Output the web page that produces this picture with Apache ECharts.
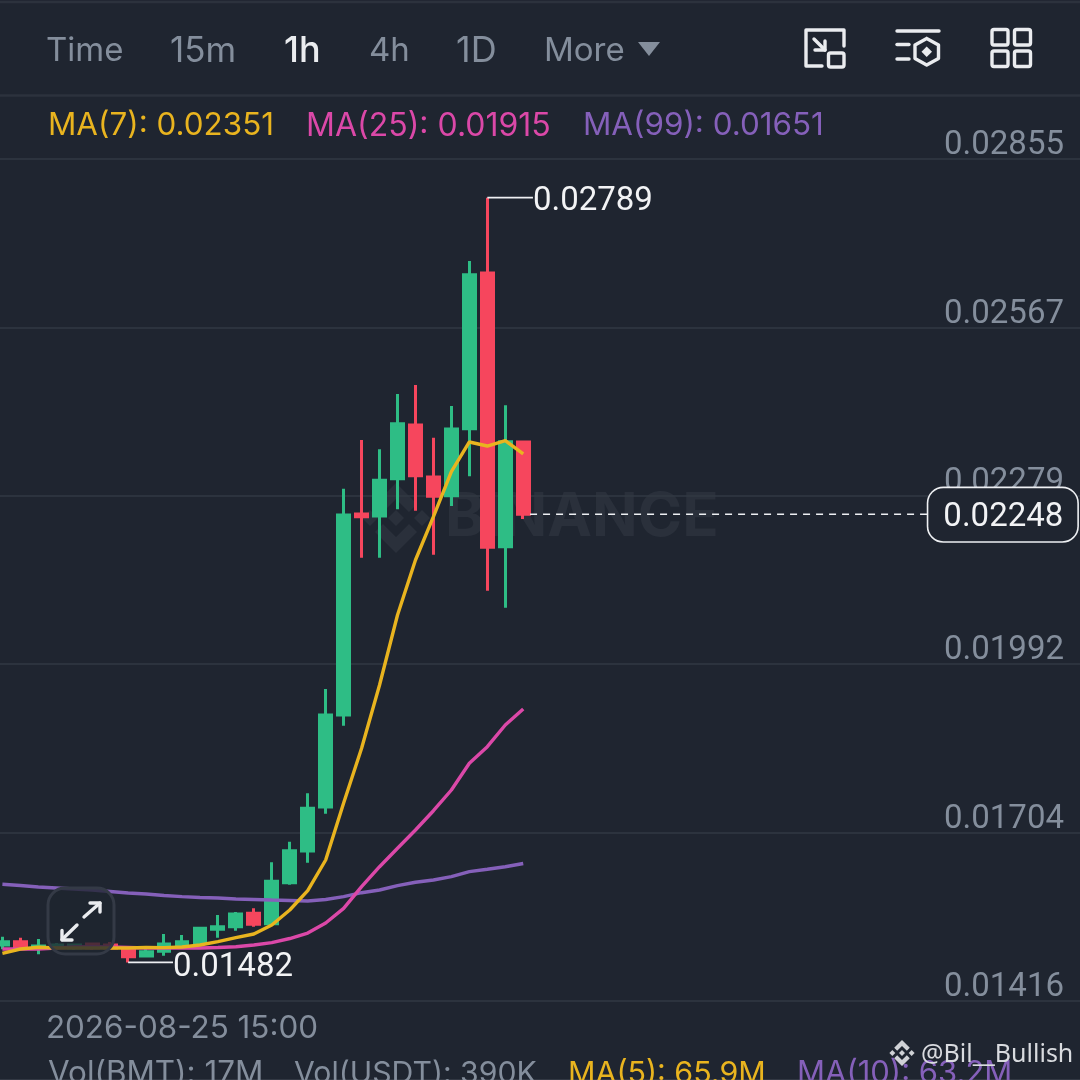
<!DOCTYPE html>
<html>
<head>
<meta charset="utf-8">
<style>html,body{margin:0;padding:0;background:#1f2530;overflow:hidden}#c{width:1080px;height:1080px}</style>
<script src="https://cdn.jsdelivr.net/npm/echarts@6/dist/echarts.min.js"></script>
</head>
<body>
<div id="c"></div>
<script>
// candle values: [open, close, low, high]
const candles = [
 [.015117,.015174,.015044,.015259],
 [.015174,.015061,.015049,.015242],
 [.01508,.0151,.01496,.01522],
 [.015083,.015117,.015049,.015151],
 [.015066,.015117,.015032,.015143],
 [.015134,.015066,.015032,.015151],
 [.015117,.015066,.015032,.015169],
 [.015061,.014917,.01482,.0151],
 [.014929,.015003,.014917,.015044],
 [.01501,.015134,.014934,.015305],
 [.015117,.015174,.015078,.015288],
 [.015157,.015403,.015146,.015413],
 [.015386,.01543,.015242,.01563],
 [.01543,.015647,.015362,.015681],
 [.015659,.015471,.01543,.015744],
 [.015481,.016206,.015442,.01653],
 [.016182,.016729,.016148,.016883],
 [.016724,.017453,.016524,.01771],
 [.017476,.019048,.017361,.019492],
 [.019048,.022466,.018865,.022915],
 [.022483,.022437,.021736,.023748],
 [.022449,.023059,.021736,.023589],
 [.023086,.024026,.022563,.024534],
 [.024004,.023138,.02254,.024688],
 [.023115,.022786,.021788,.023787],
 [.022796,.023936,.02262,.024329],
 [.023941,.026573,.023127,.026807],
 [.026602,.021914,.021172,.02789],
 [.021924,.023719,.020882,.024341],
 [.023714,.02248,.022398,.023719]
];
const ma7 = [.014975,.015049,.015078,.015066,.015066,.015066,.015066,.015066,.015075,.015072,.015083,.015117,.015174,.015242,.015305,.015459,.015715,.016045,.01657,.017544,.018479,.019561,.020757,.021697,.022437,.023206,.023714,.023645,.023736,.02351];
const ma25 = [.015049,.015049,.015049,.015066,.015083,.015088,.015083,.015075,.015066,.015066,.015066,.015066,.015075,.015088,.015117,.015157,.015228,.015322,.015493,.015744,.016114,.016455,.01677,.017083,.017412,.017766,.018223,.018506,.018877,.01915];
const ma99 = [.016155,.016134,.016108,.016091,.016074,.016057,.016032,.016006,.015989,.015963,.015943,.015929,.01592,.015903,.015895,.015886,.015878,.015869,.015895,.015943,.016011,.016057,.016131,.016189,.016228,.016285,.01637,.016411,.016455,.01651];
const tickLabels = ['0.01416','0.01704','0.01992','0.02279','0.02567','0.02855'];
const lastPrice = 0.02248, highPrice = 0.02789, lowPrice = 0.01482;
const timeLabel = '2026-08-25 15:00';
const tabs = ['Time','15m','1h','4h','1D','More'];
const maLegend = ['MA(7): 0.02351','MA(25): 0.01915','MA(99): 0.01651'];
const volLegend = ['Vol(BMT): 17M','Vol(USDT): 390K','MA(5): 65.9M','MA(10): 63.2M'];

const BG='#1f2530', GRID='#323843', GRAY='#848e9c', WHITE='#eaecef', GREEN='#2ebd85', RED='#f6465d',
      YEL='#e9b41f', PINK='#db48a8', PUR='#8560ba', FONT='Inter', NUM='Roboto';
const slots = 62, timeIdx = 11;               // one leading empty slot, then one per hour
const cats = []; 
for (let i=0;i<slots;i++) cats.push(i===timeIdx?timeLabel:'h'+i);
const pad = a => ['-'].concat(a);

function txt(t,x,y,size,fill,extra){return Object.assign({type:'text',silent:true,z:50,style:{text:t,x:x,y:y,fill:fill,
  font:(extra&&extra.weight||'400')+' '+size+'px '+(extra&&extra.family||FONT),textVerticalAlign:'middle',textAlign:extra&&extra.align||'left'}},{});}
function line(x1,y1,x2,y2,c,w,z){return {type:'line',silent:true,z:z||50,shape:{x1,y1,x2,y2},style:{stroke:c||WHITE,lineWidth:w||3.4,lineCap:'round',lineJoin:'round'}};}
function poly(pts,style,z){return {type:'polyline',silent:true,z:z||50,shape:{points:pts},style:Object.assign({fill:null,stroke:WHITE,lineWidth:3.4,lineCap:'round',lineJoin:'round'},style||{})};}
function sq(x,y,w,h){return {type:'rect',silent:true,z:50,shape:{x,y,width:w,height:h,r:2},style:{fill:null,stroke:WHITE,lineWidth:3.4}};}
function logo(cx,cy,r,fill,z){
  const s=r/35, P=a=>({type:'polygon',silent:true,z:z,shape:{points:a.map(p=>[cx+p[0]*s,cy+p[1]*s])},style:{fill:fill}});
  const d=(x,y,h)=>P([[x,y-h],[x+h,y],[x,y+h],[x-h,y]]);
  return [P([[0,-35],[21,-14],[13,-6],[0,-19],[-13,-6],[-21,-14]]),
          P([[0,35],[21,14],[13,6],[0,19],[-13,6],[-21,14]]),
          d(0,0,8),d(-26,0,8),d(26,0,8)];
}
const tabX=[46,170,284,369,456,544];
const tabSize=[33,35,36,33,36,33];
let g=[];
g.push(line(0,2,1080,2,'#2c323d',2.5));
tabs.forEach((t,i)=>g.push(txt(t,tabX[i],51,tabSize[i],i===2?WHITE:GRAY,i===2?{weight:'500'}:null)));
g.push({type:'polygon',silent:true,z:50,shape:{points:[[638,42],[660,42],[649,56]]},style:{fill:GRAY}});
// icons
g.push(poly([[844,46],[844,30],[806,30],[806,66],[822,66]]));
g.push(sq(828.5,53,15.5,14));
g.push(poly([[814,39],[825,50]]));g.push(poly([[825,41],[825,50],[815,50]]));
g.push(line(897,31,939,31));g.push(line(897,44.5,909,44.5));g.push(line(897,59,909,59));
g.push(poly([[926.7,38.5],[938.5,45],[938.5,58.5],[926.7,65],[915,58.5],[915,45],[926.7,38.5]]));
g.push({type:'polygon',silent:true,z:50,shape:{points:[[926.7,46.5],[932,51.7],[926.7,57],[921.5,51.7]]},style:{fill:WHITE}});
[[992,29.5],[1014.5,29.5],[992,51],[1014.5,51]].forEach(p=>g.push(sq(p[0],p[1],16,15.5)));
// legends
[[48,YEL],[306,PINK],[583,PUR]].forEach((p,i)=>g.push(txt(maLegend[i],p[0],126,i===1?32:31.4,p[1])));
[[48,GRAY,31.4],[294,GRAY,30.2],[568,YEL,30.4],[797,PUR,31]].forEach((p,i)=>g.push(txt(volLegend[i],p[0],1074,p[2],p[1])));
// watermark
logo(396,518,35,'#2a303b',-1).forEach(e=>g.push(e));
g.push(Object.assign(txt('BINANCE',445,518,60,'#2a303b',{weight:'700'}),{z:-1}));
// expand button
g.push({type:'rect',silent:true,z:60,shape:{x:48,y:888,width:66,height:66,r:17},style:{fill:'rgba(31,37,48,0.78)',stroke:'#343a46',lineWidth:3}});
g.push(Object.assign(line(84,917,100,903,WHITE,3.4),{z:61}));
g.push(Object.assign(poly([[90,903],[100,903],[100,912]]),{z:61}));
g.push(Object.assign(line(77,925,62,939.5,WHITE,3.4),{z:61}));
g.push(Object.assign(poly([[62,930.5],[62,940],[72,940]]),{z:61}));
// credit
logo(902,1053,13,'#d0d2d6',70).forEach(e=>g.push(e));
g.push(Object.assign(txt('@Bil__Bullish',921,1055,25,'#d9dbdf',{family:'Noto Sans'}),{z:70}));

const chart = echarts.init(document.getElementById('c'),null,{renderer:'canvas'});
const lineSeries=(name,data,color,z)=>({name,type:'line',data:pad(data),xAxisIndex:0,yAxisIndex:0,symbol:'none',
  smooth:false,silent:true,z:z,lineStyle:{color,width:3.4},animation:false});
const note=(name,pts,dash,label)=>({name,type:'line',xAxisIndex:1,yAxisIndex:0,data:pts,symbol:'none',silent:true,z:8,animation:false,
  lineStyle:{color:'#eef0f3',width:1.6,type:dash?[7,6]:'solid'},
  endLabel:Object.assign({show:true,distance:0,color:'#f2f3f5',fontSize:33,fontFamily:NUM,offset:[0,4],formatter:p=>p.value[1].toFixed(5)},label||{})});

chart.setOption({
  animation:false,
  backgroundColor:BG,
  graphic:g,
  grid:[
    {left:-15.56,width:1095.56,top:95,height:906,outerBoundsMode:'none'},
    {left:-15.56,width:1095.56,top:159,height:842,outerBoundsMode:'none'},
    {left:-15.56,width:1095.56,top:1049,height:31,outerBoundsMode:'none'}
  ],
  xAxis:[
    {type:'category',gridIndex:0,data:cats,boundaryGap:false,axisLine:{show:false},axisTick:{show:false},
     axisLabel:{interval:i=>i===timeIdx,formatter:v=>v,color:GRAY,fontSize:31.4,fontFamily:FONT,margin:12},
     splitLine:{show:true,interval:i=>i===timeIdx,showMinLine:false,showMaxLine:false,lineStyle:{color:GRID,width:1.5}}},
    {type:'value',gridIndex:0,position:'top',min:0,max:61,axisLine:{show:true,lineStyle:{color:'#2c323d',width:2.5}},axisTick:{show:false},axisLabel:{show:false},splitLine:{show:false}},
    {type:'value',gridIndex:1,min:0,max:61,show:false},
    {type:'category',gridIndex:2,position:'top',data:cats,boundaryGap:false,axisLine:{show:true,lineStyle:{color:GRID,width:2}},axisTick:{show:false},axisLabel:{show:false},
     splitLine:{show:true,interval:i=>i===timeIdx,showMinLine:false,showMaxLine:false,lineStyle:{color:GRID,width:1.5}}}
  ],
  yAxis:[
    {type:'value',gridIndex:0,min:0.01416,max:0.029644,show:false,splitLine:{show:false}},
    {type:'value',gridIndex:1,position:'right',min:0,max:5,interval:1,axisLine:{show:false},axisTick:{show:false},
     axisLabel:{inside:true,margin:16,color:GRAY,fontSize:33,fontFamily:NUM,verticalAlign:'bottom',lineHeight:26,formatter:v=>tickLabels[v]},
     splitLine:{show:true,showMinLine:true,showMaxLine:true,lineStyle:{color:GRID,width:1.5}}},
    {type:'value',gridIndex:2,min:0,max:1,show:false,splitLine:{show:false}}
  ],
  series:[
    {name:'BMT',type:'candlestick',xAxisIndex:0,yAxisIndex:0,data:[['-','-','-','-']].concat(candles),barWidth:12.4,silent:true,z:3,
     itemStyle:{color:GREEN,color0:RED,borderColor:GREEN,borderColor0:RED,borderWidth:3,borderColorDoji:RED}},
    lineSeries('MA(99)',ma99,PUR,5),
    lineSeries('MA(25)',ma25,PINK,6),
    lineSeries('MA(7)',ma7,YEL,7),
    note('high',[[28,highPrice],[30.54,highPrice]],false),
    note('low',[[8,lowPrice],[10.5,lowPrice]],false,{offset:[0,5]}),
    note('last',[[30.38,lastPrice],[52.5,lastPrice]],true,{offset:[1,-26],verticalAlign:'top',color:'#f2f3f5',backgroundColor:BG,borderColor:'#eef0f3',borderWidth:1.6,borderRadius:15,padding:[13.5,14,6.5,15]})
  ]
});
</script>
</body>
</html>
